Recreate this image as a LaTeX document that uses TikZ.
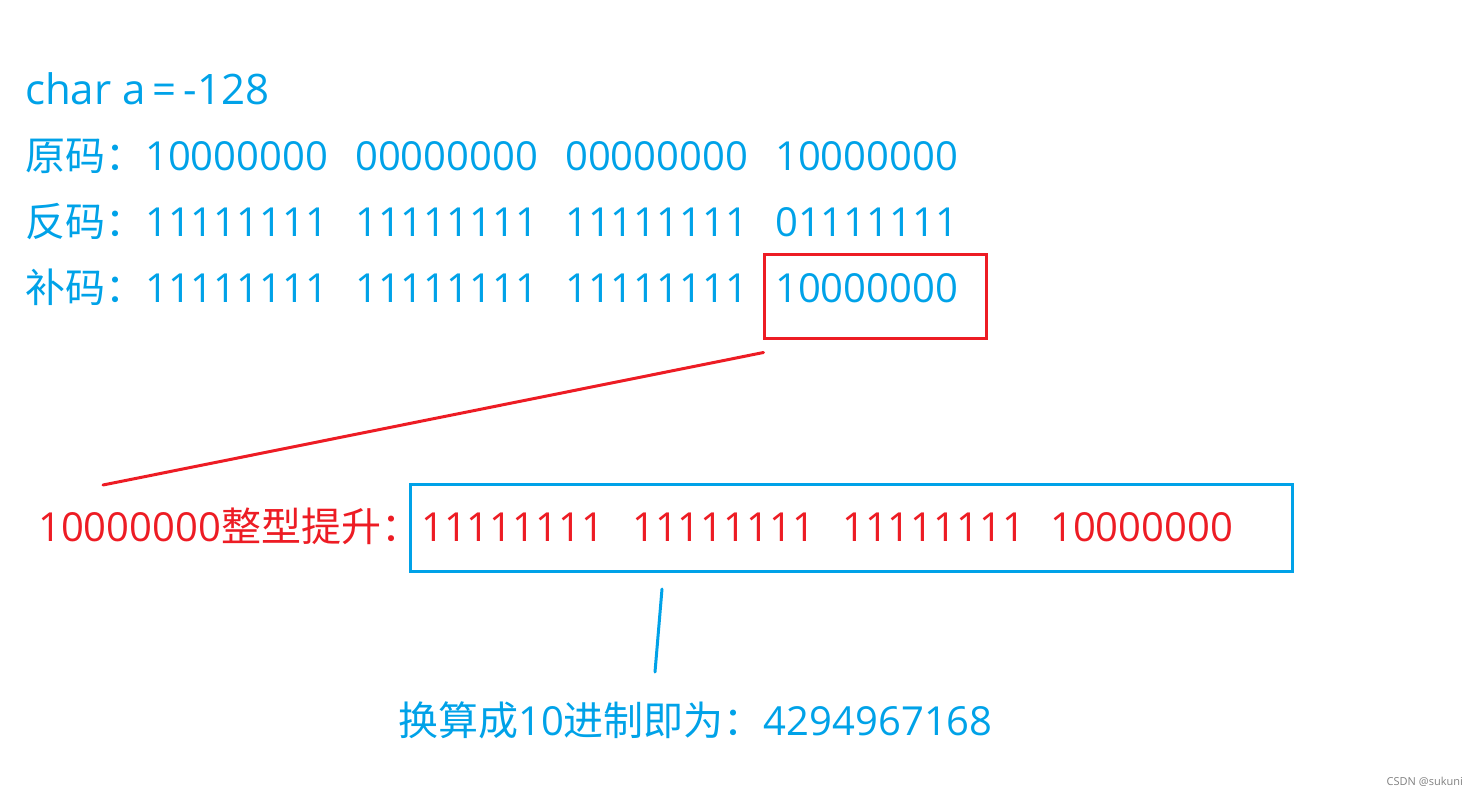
\documentclass[tikz,border=0pt]{standalone}
\usepackage{fontspec}
\setmainfont{Open Sans}
\newfontfamily\cjk{Noto Sans CJK SC}
\definecolor{textblue}{RGB}{0,162,232}
\definecolor{inkred}{RGB}{237,28,36}

\begin{document}
\begin{tikzpicture}[x=1pt,y=-1pt]
	\tikzset{
		txt/.style={anchor=base west,inner sep=0pt,font=\fontsize{40}{48}\selectfont,text=textblue},
		redtxt/.style={txt,text=inkred},
		redbox/.style={draw=inkred,line width=3pt,inner sep=0pt},
		bluebox/.style={draw=textblue,line width=3pt,inner sep=0pt}}
	\useasboundingbox (0,0) rectangle (1477,796);
	\node[txt,font=\fontsize{42}{48}\selectfont](c) at (25,104){char a\,=\,-128};
	\node[txt](y) at (25,170){\cjk 原码：};
	\node[txt](y1) at (145,170){10000000};
	\node[txt](y2) at (355,170){00000000};
	\node[txt](y3) at (565,170){00000000};
	\node[txt](y4) at (775,170){10000000};
	\node[txt](f) at (25,236){\cjk 反码：};
	\node[txt](f1) at (145,236){11111111};
	\node[txt](f2) at (355,236){11111111};
	\node[txt](f3) at (565,236){11111111};
	\node[txt](f4) at (775,236){01111111};
	\node[txt](b) at (25,302){\cjk 补码：};
	\node[txt](b1) at (145,302){11111111};
	\node[txt](b2) at (355,302){11111111};
	\node[txt](b3) at (565,302){11111111};
	\node[txt](b4) at (775,302){10000000};
	\node[redbox,minimum width=222pt,minimum height=84pt](r) at (875,296){};
	\node[redtxt](p) at (38,541){10000000{\cjk 整型提升：}};
	\node[redtxt](p1) at (421,541){11111111};
	\node[redtxt](p2) at (632,541){11111111};
	\node[redtxt](p3) at (842,541){11111111};
	\node[redtxt](p4) at (1050,541){10000000};
	\node[bluebox,minimum width=882pt,minimum height=87pt](q) at (851,528){};
	\node[txt](d) at (398,735){{\cjk 换算成}10{\cjk 进制即为：}4294967168};
	\node[anchor=east,inner sep=0pt,font=\fontsize{11}{13}\selectfont,text=gray](w) at (1463,782){CSDN @sukuni};
	\coordinate (r0) at (103,485);
	\coordinate (d0) at (655,672);
	\draw[inkred,line width=3pt,line cap=round]([shift={(1,13)}]r.south west)--(r0);
	\draw[textblue,line width=3pt,line cap=round]([shift={(-189,16)}]q.south)--(d0);
\end{tikzpicture}
\end{document}
